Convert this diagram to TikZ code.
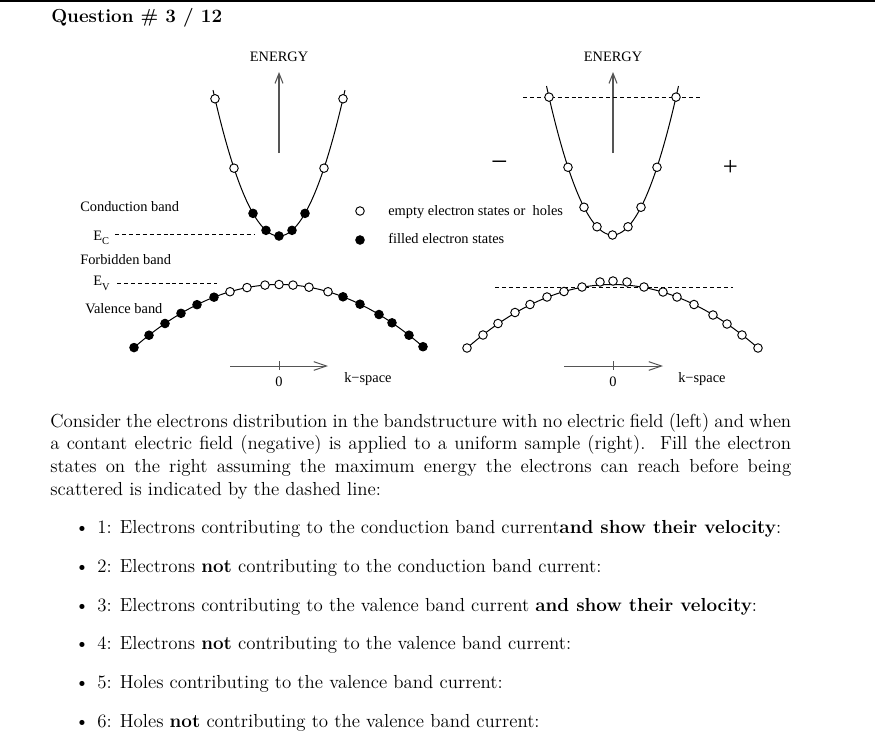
\documentclass[tikz,border=0pt]{standalone}
\usepackage{fontspec}
\newfontfamily\figfont{Liberation Serif}
\usetikzlibrary{arrows.meta}
\definecolor{axgray}{RGB}{85,85,85}
\newcommand\bodytxt{\fontsize{14.15}{17}\selectfont}
\newcommand\figtxt{\figfont\fontsize{10.8}{12}\selectfont}
\newcommand\subtxt{\figfont\fontsize{7.8}{9}\selectfont}
\begin{document}
\begin{tikzpicture}[x=0.75pt,y=-0.75pt,
  body/.style={anchor=base west, inner sep=0pt, font=\bodytxt},
  flab/.style={inner sep=0pt, font=\figtxt},
  band/.style={line width=0.75pt, black},
  emptyst/.style={draw=black, fill=white, line width=0.7pt},
  fullst/.style={draw=black, fill=black, line width=0.7pt},
  lvl/.style={line width=0.6pt, dash pattern=on 3pt off 2.2pt},
  energyarrow/.style={line width=0.8pt, axgray, -{Straight Barb[length=7.5pt,width=6pt]}},
  karrow/.style={line width=0.75pt, axgray, -{Straight Barb[length=9.5pt,width=6.5pt]}},
  tick/.style={line width=0.75pt, axgray}
]
\useasboundingbox (0,0) rectangle (875,733);
% top rule
\coordinate (r0) at (0,1);
\coordinate (r1) at (875,1);
\draw[line width=1.5pt] (r0) -- (r1);

% header
\node[body] (hdr) at (51,22) {\bfseries Question \# 3 / 12};

% ================= LEFT PANEL =================
\node[flab, anchor=base] (enL) at (279,61) {ENERGY};
\coordinate (eL0) at (279,153);
\coordinate (eL1) at (279,72);
\draw[energyarrow] (eL0) -- (eL1);

% conduction band
\draw[band] plot[domain=-66:66, samples=80] ({279+\x},{236-3.35*(\x/10)*(\x/10)});
\foreach \d/\s in {-64/emptyst,-45/emptyst,-26/fullst,-13/fullst,0/fullst,13/fullst,26/fullst,45/emptyst,64/emptyst}
  \path[\s] ({279+\d},{236-3.35*(\d/10)*(\d/10)}) circle[radius=3.2pt];

% valence band
\draw[band] plot[domain=-145:144, samples=100] ({279+\x},{284.5+0.3*(\x/10)*(\x/10)});
\foreach \d/\s in {-145/fullst,-130/fullst,-114/fullst,-98/fullst,-82/fullst,-65/fullst,
                   -49/emptyst,-32/emptyst,-14/emptyst,0/emptyst,14/emptyst,30/emptyst,49/emptyst,
                   64/fullst,81/fullst,100/fullst,113/fullst,130/fullst,144/fullst}
  \path[\s] ({279+\d},{284.5+0.3*(\d/10)*(\d/10)}) circle[radius=3.2pt];

% levels
\coordinate (ec0) at (115,234.5);
\coordinate (ec1) at (255,234.5);
\draw[lvl] (ec0) -- (ec1);
\coordinate (ev0) at (117,283);
\coordinate (ev1) at (217,283);
\draw[lvl] (ev0) -- (ev1);

\node[flab, anchor=base west] (cb) at (80,211) {Conduction band};
\node[flab, anchor=base west] (fb) at (80,264) {Forbidden band};
\node[flab, anchor=base west] (vb) at (85,313) {Valence band};
\node[flab, anchor=base west] (ecl) at (93,240) {E\raisebox{-3.6pt}{\subtxt C}};
\node[flab, anchor=base west] (evl) at (93,285.5) {E\raisebox{-3.6pt}{\subtxt V}};

% legend
\path[emptyst] (360,211) circle[radius=3.2pt];
\path[fullst] (360,240) circle[radius=3.2pt];
\node[flab, anchor=base west] (leg1) at (388,215) {empty electron states or \ holes};
\node[flab, anchor=base west] (leg2) at (388,243.5) {filled electron states};

% k axis
\coordinate (kL0) at (230,366);
\coordinate (kL1) at (328,366);
\draw[karrow] (kL0) -- (kL1);
\coordinate (tL0) at (279,361);
\coordinate (tL1) at (279,370);
\draw[tick] (tL0) -- (tL1);
\node[flab, anchor=base] (zL) at (279,386) {0};
\node[flab, anchor=base west] (ksL) at (344,382) {k−space};

% ================= RIGHT PANEL =================
\node[flab, anchor=base] (enR) at (613,61) {ENERGY};
\coordinate (eR0) at (613,153);
\coordinate (eR1) at (613,72);
\draw[energyarrow] (eR0) -- (eR1);

\draw[band] plot[domain=-66:66, samples=80] ({612.5+\x},{235-3.42*(\x/10)*(\x/10)});
\coordinate (tc0) at (523,97);
\coordinate (tc1) at (703,97);
\draw[lvl] (tc0) -- (tc1);
\foreach \d in {-63.5,-44.5,-28.5,-15.5,0,15.5,28.5,44.5,63.5}
  \path[emptyst] ({612.5+\d},{235-3.42*(\d/10)*(\d/10)}) circle[radius=3.2pt];

\draw[band] plot[domain=-146:146, samples=100] ({612.5+\x},{284.5+0.3*(\x/10)*(\x/10)});
\coordinate (tv0) at (495,287);
\coordinate (tv1) at (733,287);
\draw[lvl] (tv0) -- (tv1);
\foreach \px/\py in {467/348,483/335,498/323.5,515/312.5,530/304.5,547/297,564/291.5,582/287,
                     600/282,613/281,627/282,644/287,663/292,677/297,694/304.5,713/315,727/324,742/335,758/348}
  \path[emptyst] (\px,\py) circle[radius=3.2pt];

\node[inner sep=0pt, font=\figfont\fontsize{22}{24}\selectfont] (minus) at (499.5,166) {−};
\node[inner sep=0pt, font=\figfont\fontsize{20}{22}\selectfont] (plus) at (730.5,167.5) {+};

\coordinate (kR0) at (564,366);
\coordinate (kR1) at (663,366);
\draw[karrow] (kR0) -- (kR1);
\coordinate (tR0) at (613,361);
\coordinate (tR1) at (613,370);
\draw[tick] (tR0) -- (tR1);
\node[flab, anchor=base] (zR) at (613,386) {0};
\node[flab, anchor=base west] (ksR) at (678,382) {k−space};

% ================= TEXT =================
\node[body] (p1) at (50,427) {\makebox[555.75pt][s]{Consider the electrons distribution in the bandstructure with no electric field (left) and when}};
\node[body] (p2) at (50,449.7) {\makebox[555.75pt][s]{a contant electric field (negative) is applied to a uniform sample (right).\ \ Fill the electron}};
\node[body] (p3) at (50,472.3) {\makebox[555.75pt][s]{states on the right assuming the maximum energy the electrons can reach before being}};
\node[body] (p4) at (50,495) {scattered is indicated by the dashed line:};

\foreach \yy/\nm in {533/b1,572/b2,611/b3,649.5/b4,688.5/b5,727/b6}
  \node[inner sep=0pt, anchor=base, font=\bodytxt] (\nm) at (82,\yy) {\textbullet};

\node[body] (i1) at (97,533) {1: Electrons contributing to the conduction band current\textbf{and show their velocity}:};
\node[body] (i2) at (97,572) {2: Electrons \textbf{not} contributing to the conduction band current:};
\node[body] (i3) at (97,611) {3: Electrons contributing to the valence band current \textbf{and show their velocity}:};
\node[body] (i4) at (97,649.5) {4: Electrons \textbf{not} contributing to the valence band current:};
\node[body] (i5) at (97,688.5) {5: Holes contributing to the valence band current:};
\node[body] (i6) at (97,727) {6: Holes \textbf{not} contributing to the valence band current:};
\end{tikzpicture}
\end{document}
